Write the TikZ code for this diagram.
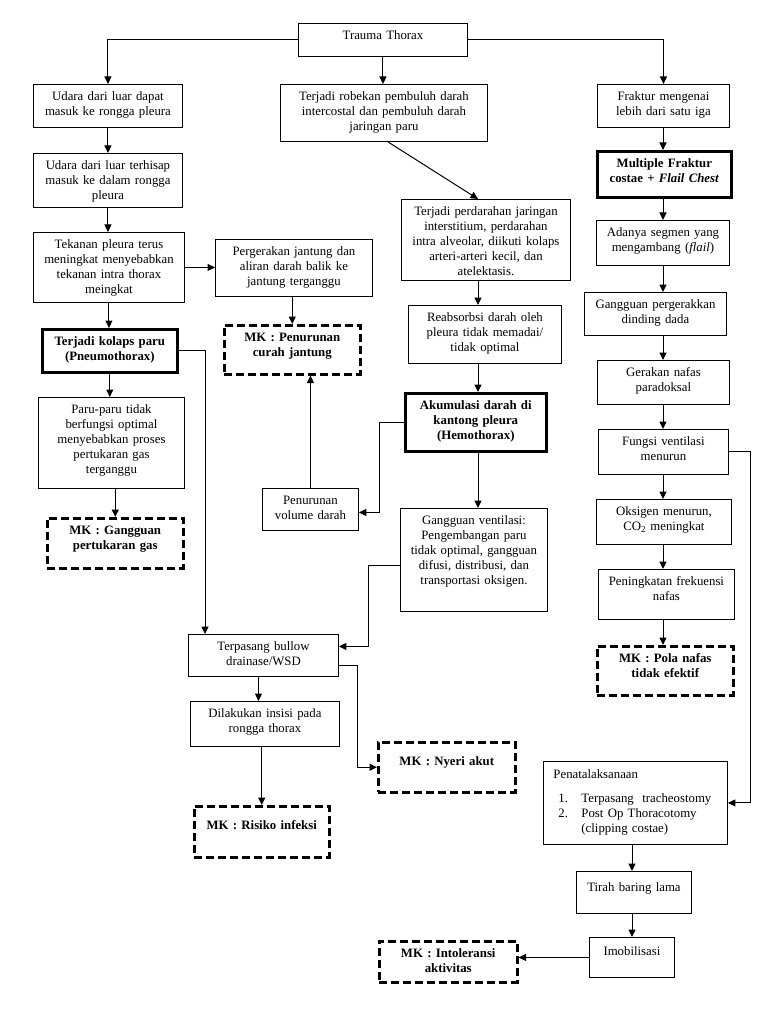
\documentclass[tikz,border=0pt]{standalone}
\usepackage{fontspec}
\setmainfont{Liberation Serif}
\usetikzlibrary{arrows.meta}

\begin{document}
\begin{tikzpicture}[x=1pt, y=-1pt, >={Triangle[length=7.5pt,width=7pt]},
  every node/.style={font=\fontsize{12.8}{15}\selectfont},
  box/.style 2 args={draw, line width=0.9pt, anchor=north west, align=center,
    inner xsep=4pt, inner ysep=6pt, text width={#1pt-8pt},
    text height=10pt, text depth={#2pt-22pt}},
  bold/.style={line width=2.6pt, font=\fontsize{12.8}{15}\selectfont\bfseries},
  mk/.style={line width=2.5pt, dash pattern=on 8pt off 4pt,
    font=\fontsize{12.8}{15}\selectfont\bfseries},
  flow/.style={->, line width=1pt}]
\useasboundingbox (0,0) rectangle (768,1024);
\coordinate (lx) at (205,0);
\coordinate (cx) at (478,0);
\coordinate (rx) at (663,0);
\coordinate (bx) at (632,0);

\node[box={169}{33}] (tt) at (298,23) {Trauma Thorax};

\node[box={149}{43}] (u1) at (33,84) {Udara dari luar dapat\\masuk ke rongga pleura};
\node[box={149}{54}] (u2) at (33,153) {Udara dari luar terhisap\\masuk ke dalam rongga\\pleura};
\node[box={151}{70}] (u3) at (33,232) {Tekanan pleura terus\\meningkat menyebabkan\\tekanan intra thorax\\meingkat};
\node[box={157}{57}] (p1) at (215,239) {Pergerakan jantung dan\\aliran darah balik ke\\jantung terganggu};
\node[box={136}{49}, mk] (mkpcj) at (223,324) {MK : Penurunan\\curah jantung};
\node[box={135}{43}, bold] (k1) at (41,328) {Terjadi kolaps paru\\(Pneumothorax)};
\node[box={146}{91}] (k2) at (38,397) {Paru-paru tidak\\berfungsi optimal\\menyebabkan proses\\pertukaran gas\\terganggu};
\node[box={136}{50}, mk] (mkgpg) at (46,517) {MK : Gangguan\\pertukaran gas};

\node[box={207}{57}] (c1) at (280,84) {Terjadi robekan pembuluh darah\\intercostal dan pembuluh darah\\jaringan paru};
\node[box={169}{81}] (c2) at (401,199) {Terjadi perdarahan jaringan\\interstitium, perdarahan\\intra alveolar, diikuti kolaps\\arteri-arteri kecil, dan\\atelektasis.};
\node[box={153}{58}] (c3) at (408,305) {Reabsorbsi darah oleh\\pleura tidak memadai/\\tidak optimal};
\node[box={141}{58}, bold] (c4) at (404,392) {Akumulasi darah di\\kantong pleura\\(Hemothorax)};
\node[box={96}{42}] (pvd) at (262,488) {Penurunan\\volume darah};
\node[box={147}{103}] (c5) at (400,508) {Gangguan ventilasi:\\Pengembangan paru\\tidak optimal, gangguan\\difusi, distribusi, dan\\transportasi oksigen.};

\node[box={150}{42}] (wsd) at (188,634) {Terpasang bullow\\drainase/WSD};
\node[box={149}{45}] (ins) at (190,701) {Dilakukan insisi pada\\rongga thorax};
\node[box={135}{51}, mk, text height=17pt, text depth=22pt] (risiko) at (193,805) {MK : Risiko infeksi};
\node[box={137}{50}, mk, text height=17pt, text depth=21pt] (nyeri) at (377,741) {MK : Nyeri akut};

\node[box={132}{43}] (r1) at (597,84) {Fraktur mengenai\\lebih dari satu iga};
\node[box={134}{46}, bold] (r2) at (596,150) {Multiple Fraktur\\costae + \textit{Flail Chest}};
\node[box={133}{45}] (r3) at (596,220) {Adanya segmen yang\\mengambang (\textit{flail})};
\node[box={142}{43}] (r4) at (584,292) {Gangguan pergerakkan\\dinding dada};
\node[box={132}{44}] (r5) at (597,360) {Gerakan nafas\\paradoksal};
\node[box={130}{45}] (r6) at (598,429) {Fungsi ventilasi\\menurun};
\node[box={135}{45}] (r7) at (596,499) {Oksigen menurun,\\CO\textsubscript{2} meningkat};
\node[box={136}{50}] (r8) at (598,569) {Peningkatan frekuensi\\nafas};
\node[box={136}{49}, mk] (pola) at (596,645) {MK : Pola nafas\\tidak efektif};

\node[box={172}{83}, align=left, inner xsep=10pt, text height=11pt, text depth=60pt] (pen) at (543,761) {Penatalaksanaan\\[9pt]
  \hspace*{5pt}\makebox[23pt][l]{1.}Terpasang\ \ tracheostomy\\
  \hspace*{5pt}\makebox[23pt][l]{2.}Post Op Thoracotomy\\
  \hspace*{28pt}(clipping costae)};
\node[box={115}{42}, text height=14pt, text depth=16pt] (tirah) at (576,871) {Tirah baring lama};
\node[box={85}{38}, text height=12pt] (imob) at (589,937) {Imobilisasi};
\node[box={138}{41}, mk] (intol) at (378,940) {MK : Intoleransi\\aktivitas};

\draw[flow] (tt.west) -| (u1.north);
\draw[flow] (tt.east) -| (r1.north);
\draw[flow] (tt.south) -- (tt.south |- c1.north);
\draw[flow] (u1.south) -- (u1.south |- u2.north);
\draw[flow] (u2.south) -- (u2.south |- u3.north);
\draw[flow] (u3.south) -- (u3.south |- k1.north);
\draw[flow] (u3.east) -- (u3.east -| p1.west);
\draw[flow] (mkpcj.north |- p1.south) -- (mkpcj.north);
\draw[flow] (k1.south) -- (k1.south |- k2.north);
\draw[flow] (mkgpg.north |- k2.south) -- (mkgpg.north);
\draw[flow] (k1.east) -| (wsd.north -| lx);
\draw[flow] ([xshift=4pt]c1.south) -- (c2.north -| cx);
\foreach \a/\b in {c2/c3, c3/c4, c4/c5}
  \draw[flow] (\a.south -| cx) -- (\b.north -| cx);
\draw[flow] (c4.west) -- ++(-25,0) |- ([yshift=-3pt]pvd.east);
\draw[flow] (pvd.north) -- (pvd.north |- mkpcj.south);
\draw[flow] ([yshift=-6pt]c5.west) -- ++(-32,0) |- ([yshift=9pt]wsd.east);
\draw[flow] ([xshift=-5pt]wsd.south) -- ([xshift=-5pt]wsd.south |- ins.north);
\draw[flow] ([yshift=-10pt]wsd.east) -- ++(19,0) |- (nyeri.west);
\draw[flow] (risiko.north |- ins.south) -- (risiko.north);
\foreach \a/\b in {r1/r2, r2/r3, r3/r4, r4/r5, r5/r6, r6/r7, r7/r8, r8/pola}
  \draw[flow] (\a.south -| rx) -- (\b.north -| rx);
\draw[flow] (r6.east) -- ++(22,0) |- (pen.east);
\foreach \a/\b in {pen/tirah, tirah/imob}
  \draw[flow] (\a.south -| bx) -- (\b.north -| bx);
\draw[flow] (imob.west) -- (imob.west -| intol.east);
\end{tikzpicture}
\end{document}
